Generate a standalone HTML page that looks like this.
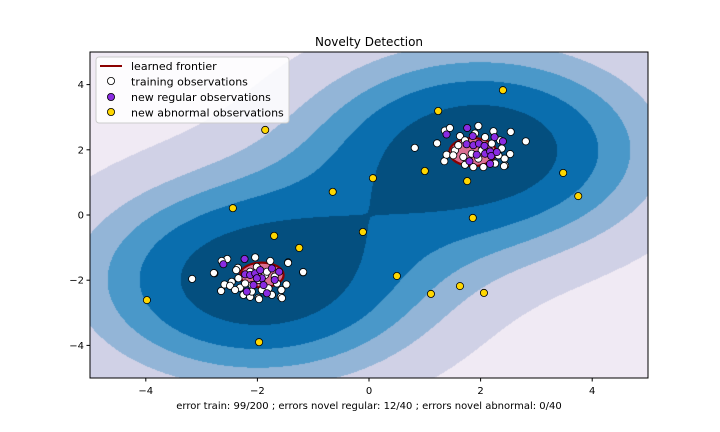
<!DOCTYPE html>
<html><head><meta charset="utf-8">
<style>
body{margin:0;background:#fff;width:720px;height:432px;overflow:hidden;font-family:"DejaVu Sans","Liberation Sans",sans-serif;}
#wrap{position:relative;width:720px;height:432px;}
canvas{position:absolute;left:90px;top:52px;}
svg{position:absolute;left:0;top:0;}
</style></head><body>
<div id="wrap">
<canvas id="cv" width="558" height="326"></canvas>
<svg id="sv" width="720" height="432"></svg>
</div>
<script>
const blobCenters=[[2,2],[-2,-2]];
const levelThresholds=[0.122,0.295,0.447,0.61,0.816];
const bandColors=['#f0eaf4','#d0d1e6','#93b5d7','#4a98c9','#0a6eae','#044f7f'];
const frontiers=[[-1.92,-1.84,0.39,0.38],[1.86,1.93,0.42,0.43]];
const trainX=[-2.54,-2.64,-2.77,-2.35,-2.38,-2.04,-1.77,-1.45,-1.18,-2.46,-2.59,-2.65,-2.31,-2.25,-2.13,-1.98,-1.74,-1.58,-1.57,-1.48,-1.65,-1.86,-1.98,-2.10,-2.22,-2.34,-1.92,-1.80,-1.69,-2.13,-2.01,-1.83,-2.49,-2.40,-2.10,-3.17,-2.78,-1.18,-1.45,-1.56,-2.65,-1.97,
0.82,1.22,1.35,1.39,1.36,1.45,1.63,1.96,2.23,2.54,2.81,2.53,2.43,2.44,2.26,2.05,1.87,1.72,1.54,1.69,1.84,2.02,2.20,2.35,2.38,2.08,1.90,1.72,1.60,2.32,1.96,1.51,2.42];
const trainY=[-1.35,-1.41,-1.79,-1.62,-1.69,-1.30,-1.41,-1.45,-1.76,-2.05,-2.13,-2.33,-2.23,-2.45,-2.51,-2.54,-2.45,-2.51,-2.30,-2.13,-2.10,-1.84,-1.99,-2.15,-2.10,-1.94,-2.30,-2.25,-1.89,-1.74,-1.59,-1.74,-2.17,-2.30,-2.35,-1.96,-1.78,-1.75,-1.47,-2.55,-2.33,-2.58,
2.06,2.20,1.65,1.85,2.59,2.67,2.42,2.73,2.57,2.55,2.26,1.87,1.73,1.52,1.58,1.47,1.47,1.54,1.98,1.78,1.88,1.98,2.19,2.29,2.04,2.39,2.50,2.29,2.14,1.83,1.73,1.83,1.50];
const regX=[-2.61,-2.23,-2.22,-2.13,-2.04,-1.95,-1.74,-1.61,-1.92,-2.07,-1.89,-1.69,-2.19,-1.83,-2.01,
1.39,1.76,1.86,1.75,1.87,1.97,2.07,2.25,2.40,1.93,2.08,2.17,2.19,1.80,2.17,2.29];
const regY=[-1.51,-1.35,-1.82,-1.84,-1.79,-1.69,-1.64,-1.74,-1.94,-2.15,-2.15,-1.99,-2.35,-2.40,-1.94,
2.47,2.67,2.42,2.17,2.14,2.19,2.12,2.39,2.26,1.85,1.88,1.95,1.81,1.65,1.57,1.93];
const abnX=[2.40,1.24,0.07,1.00,1.76,3.48,3.75,1.86,0.50,1.11,1.63,2.06,-1.86,-2.44,-0.65,-1.70,-1.25,-0.11,-3.98,-1.97];
const abnY=[3.83,3.19,1.13,1.35,1.04,1.29,0.58,-0.09,-1.87,-2.42,-2.18,-2.39,2.61,0.21,0.71,-0.64,-1.01,-0.52,-2.61,-3.90];
const xTicks=[-4,-2,0,2,4], yTicks=[-4,-2,0,2,4];

const L=90,T=52,W=558,H=326;
const sx=v=>L+(v+5)/10*W, sy=v=>T+(5-v)/10*H;
const NS='http://www.w3.org/2000/svg';
const sv=document.getElementById('sv');
function mk(tag,attrs,parent){const e=document.createElementNS(NS,tag);for(const k in attrs)e.setAttribute(k,attrs[k]);(parent||sv).appendChild(e);return e;}

// contours
const cv=document.getElementById('cv'),ctx=cv.getContext('2d');
const img=ctx.createImageData(W,H);
const rgb=bandColors.map(c=>[parseInt(c.slice(1,3),16),parseInt(c.slice(3,5),16),parseInt(c.slice(5,7),16)]);
for(let j=0;j<H;j++)for(let i=0;i<W;i++){
  const x=-5+(i+0.5)/W*10, y=5-(j+0.5)/H*10;
  let f=0;for(const c of blobCenters){const d=(x-c[0])**2+(y-c[1])**2;f+=Math.exp(-0.112*d);}
  let b=0;for(const t of levelThresholds)if(f>t)b++;
  const k=(j*W+i)*4;img.data[k]=rgb[b][0];img.data[k+1]=rgb[b][1];img.data[k+2]=rgb[b][2];img.data[k+3]=255;
}
ctx.putImageData(img,0,0);

const clip=mk('clipPath',{id:'pc'});mk('rect',{x:L,y:T,width:W,height:H},clip);
const g=mk('g',{'clip-path':'url(#pc)'});


frontiers.forEach(fr=>{
  const e=mk('ellipse',{cx:sx(fr[0]),cy:sy(fr[1]),rx:fr[2]*W/10,ry:fr[3]*H/10,fill:'#db7093',stroke:'#8b0000','stroke-width':2.2},g);
  
  
});
function pts(X,Y,fill,name){X.forEach((x,i)=>{const c=mk('circle',{cx:sx(x),cy:sy(Y[i]),r:3.6,fill:fill,stroke:'#000','stroke-width':0.8},g);
  
  });}
pts(trainX,trainY,'#fff','training-point');
pts(regX,regY,'#8a2be2','regular-point');
pts(abnX,abnY,'#ffd700','abnormal-point');

const fr=mk('rect',{x:L,y:T,width:W,height:H,fill:'none',stroke:'#000','stroke-width':1});


xTicks.forEach(v=>{const x=sx(v);mk('line',{x1:x,x2:x,y1:T+H,y2:T+H+3.5,stroke:'#000'});
  const t=mk('text',{x:x,y:T+H+16,'text-anchor':'middle','font-size':10});t.textContent=(v<0?'\u2212':'')+Math.abs(v);
  
  });
yTicks.forEach(v=>{const y=sy(v);mk('line',{x1:L-3.5,x2:L,y1:y,y2:y,stroke:'#000'});
  const t=mk('text',{x:L-6,y:y+3.5,'text-anchor':'end','font-size':10});t.textContent=(v<0?'\u2212':'')+Math.abs(v);
  
  });
const ti=mk('text',{x:369,y:46,'text-anchor':'middle','font-size':12});ti.textContent='Novelty Detection';


const xl=mk('text',{x:369,y:409,'text-anchor':'middle','font-size':10});xl.textContent='error train: 99/200 ; errors novel regular: 12/40 ; errors novel abnormal: 0/40';



// legend
const lg=mk('g',{});


mk('rect',{x:96,y:57,width:193,height:66,rx:3,fill:'#fff','fill-opacity':0.85,stroke:'#ccc'},lg);
mk('line',{x1:100,x2:122,y1:66,y2:66,stroke:'#8b0000','stroke-width':2},lg);
mk('circle',{cx:111,cy:81,r:3.6,fill:'#fff',stroke:'#000','stroke-width':0.8},lg);
mk('circle',{cx:111,cy:97,r:3.6,fill:'#8a2be2',stroke:'#000','stroke-width':0.8},lg);
mk('circle',{cx:111,cy:112,r:3.6,fill:'#ffd700',stroke:'#000','stroke-width':0.8},lg);
['learned frontier','training observations','new regular observations','new abnormal observations'].forEach((s,i)=>{
  const t=mk('text',{x:131,y:70+i*15.5,'font-size':11},lg);t.textContent=s;
  
  });
</script>
</body></html>
